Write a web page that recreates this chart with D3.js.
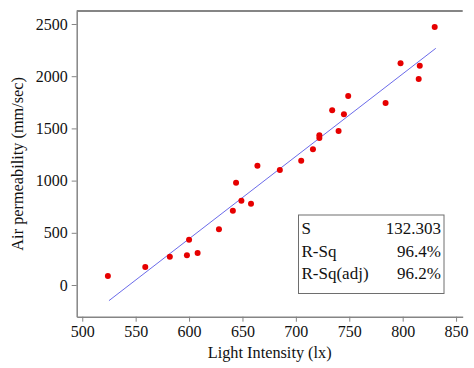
<!DOCTYPE html>
<html>
<head>
<meta charset="utf-8">
<script src="https://cdn.jsdelivr.net/npm/d3@7"></script>
<style>
  body { margin: 0; background: #fff; }
  text { font-family: "Times New Roman", "Liberation Serif", serif; fill: #111; }
</style>
</head>
<body>
<svg id="chart" width="474" height="368"></svg>
<script>
// light intensity (lx) vs air permeability (mm/sec)
const lightIntensity = [524, 559, 582, 598, 600, 608, 628, 641, 644, 649, 658, 664, 685,
  705, 716, 722, 722, 734, 740, 745, 749, 784, 798, 815, 816, 830]
const airPermeability = [86, 172, 271, 284, 434, 306, 533, 712, 980, 808, 779, 1143, 1101,
  1191, 1300, 1434, 1408, 1673, 1475, 1635, 1810, 1743, 2123, 1973, 2101, 2471]

// fitted line end points
const fitX = [525, 831]
const fitY = [-150, 2267]

const xTicks = [500, 550, 600, 650, 700, 750, 800, 850]
const yTicks = [0, 500, 1000, 1500, 2000, 2500]

const statNames = ['S', 'R-Sq', 'R-Sq(adj)']
const statValues = ['132.303', '96.4%', '96.2%']

const plotLeft = 76.7, plotRight = 462.7, plotTop = 11, plotBottom = 316.7
const axisColor = '#858585'
const serif = '"Times New Roman", "Liberation Serif", serif'

const svg = d3.select('#chart')

const x = d3.scaleLinear().domain([494.8, 856.2]).range([plotLeft, plotRight])
const y = d3.scaleLinear().domain([-303.6, 2624.5]).range([plotBottom, plotTop])

// x axis
const gx = svg.append('g')
  .attr('transform', `translate(0,${plotBottom})`)
  .call(d3.axisBottom(x).tickValues(xTicks).tickFormat(d3.format('d'))
    .tickSize(5).tickPadding(4).tickSizeOuter(0))
  .attr('font-family', serif).attr('font-size', 16)
gx.select('.domain').attr('stroke', axisColor).attr('stroke-width', 1.5)
gx.selectAll('.tick line').attr('stroke', axisColor)
gx.selectAll('.tick text').attr('fill', '#111')

// y axis
const gy = svg.append('g')
  .attr('transform', `translate(${plotLeft},0)`)
  .call(d3.axisLeft(y).tickValues(yTicks).tickFormat(d3.format('d'))
    .tickSize(5).tickPadding(4).tickSizeOuter(0))
  .attr('font-family', serif).attr('font-size', 16)
gy.select('.domain').attr('stroke', axisColor).attr('stroke-width', 1.5)
gy.selectAll('.tick line').attr('stroke', axisColor)
gy.selectAll('.tick text').attr('fill', '#111')

// top border line
svg.append('line')
  .attr('x1', plotLeft).attr('x2', plotRight)
  .attr('y1', plotTop).attr('y2', plotTop)
  .attr('stroke', axisColor).attr('stroke-width', 2)

// regression line
svg.append('line')
  .attr('x1', x(fitX[0])).attr('y1', y(fitY[0]))
  .attr('x2', x(fitX[1])).attr('y2', y(fitY[1]))
  .attr('stroke', '#6b6bea').attr('stroke-width', 1)

// points
svg.append('g').selectAll('circle')
  .data(lightIntensity)
  .join('circle')
  .attr('cx', d => x(d))
  .attr('cy', (d, i) => y(airPermeability[i]))
  .attr('r', 3)
  .attr('fill', '#e60000')

// stats box
const box = svg.append('g')
box.append('rect')
  .attr('x', 298.5).attr('y', 215)
  .attr('width', 145.5).attr('height', 78.5)
  .attr('fill', '#fff')
  .attr('stroke', '#6e6e6e').attr('stroke-width', 1)
statNames.forEach((name, i) => {
  box.append('text')
    .attr('x', 301.5).attr('y', 234 + i * 22.7)
    .style('font-size', '17px')
    .text(name)
  box.append('text')
    .attr('x', 441).attr('y', 234 + i * 22.7)
    .attr('text-anchor', 'end')
    .style('font-size', '17px')
    .text(statValues[i])
})

// axis titles
svg.append('text')
  .attr('x', (plotLeft + plotRight) / 2).attr('y', 358)
  .attr('text-anchor', 'middle')
  .style('font-size', '16.3px')
  .text('Light Intensity (lx)')

svg.append('text')
  .attr('transform', `translate(23,${(plotTop + plotBottom) / 2}) rotate(-90)`)
  .attr('text-anchor', 'middle')
  .style('font-size', '16.3px')
  .text('Air permeability (mm/sec)')
</script>
</body>
</html>
